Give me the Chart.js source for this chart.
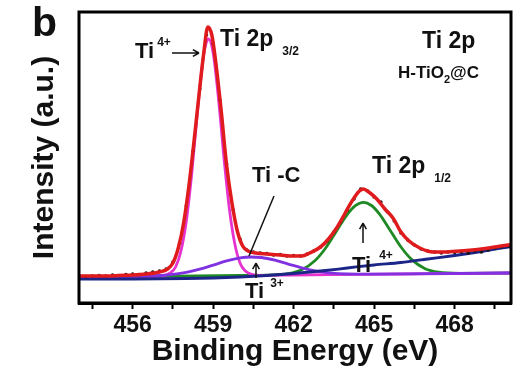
<!DOCTYPE html>
<html>
<head>
<meta charset="utf-8">
<script src="https://cdn.jsdelivr.net/npm/chart.js@4.4.1/dist/chart.umd.min.js"></script>
<style>
  html, body { margin: 0; padding: 0; background: #fff; }
  #wrap { width: 520px; height: 382px; }
</style>
</head>
<body>
<div id="wrap"><canvas id="xps" width="520" height="382"></canvas></div>
<script>
// Ti 2p XPS spectrum of H-TiO2@C with fitted components

const FONT = "'Liberation Sans', Arial, Helvetica, sans-serif";

// x axis ticks (binding energy, eV)
const tickEnergies = [454.5, 456, 457.5, 459, 460.5, 462, 463.5, 465, 466.5, 468, 469.5];
const majorTicks   = [456, 459, 462, 465, 468];

// raw data points (black dots)
const rawEnergy = [454, 454.25, 454.5, 454.75, 455, 455.25, 455.5, 455.75, 456, 456.25, 456.5, 456.75,
  457, 457.25, 457.5, 457.75, 458, 458.25, 458.5, 458.75, 459, 459.25, 459.5, 459.75,
  460, 460.25, 460.5, 460.75, 461, 461.25, 461.5, 461.75, 462, 462.25, 462.5, 462.75,
  463, 463.25, 463.5, 463.75, 464, 464.25, 464.5, 464.75, 465, 465.25, 465.5, 465.75,
  466, 466.25, 466.5, 466.75, 467, 467.25, 467.5, 467.75, 468, 468.25, 468.5, 468.75,
  469, 469.25, 469.5, 469.75, 470];
const rawIntensity = [27.5, 26.5, 27, 27.5, 27, 28, 27.5, 28.5, 29, 28.5, 30, 31,
  32, 34, 41, 60, 97, 152, 214, 268, 259, 203, 139, 93,
  64, 53, 51, 50, 49.5, 48, 48.5, 47, 47.5, 47, 49, 52,
  56, 62, 71, 81, 93, 104, 114, 112, 106, 101, 91, 82,
  70, 63, 58, 54, 52, 51, 50, 51, 50.5, 51, 50, 52,
  51, 53, 55, 56, 57];

// fitted envelope (red)
const envEnergy = [454, 455, 455.5, 456, 456.5, 457, 457.3, 457.5, 457.7, 457.9, 458.1, 458.3, 458.5,
  458.65, 458.8, 458.95, 459.1, 459.3, 459.5, 459.7, 459.9, 460.1, 460.3, 460.6, 461, 461.5,
  462, 462.3, 462.6, 463, 463.3, 463.6, 463.9, 464.2, 464.45, 464.6, 464.8, 465.1, 465.4,
  465.7, 466, 466.3, 466.7, 467.2, 467.6, 468.2, 469, 469.5, 470, 470.1];
const envIntensity = [27, 27, 27.5, 28, 29, 31, 34, 40, 55, 80, 118, 165, 215,
  250, 276, 268, 240, 192, 138, 100, 72, 57, 52, 50, 49, 48,
  47, 47, 50, 56, 64, 75, 89, 103, 112, 114, 111, 104, 94,
  85, 71, 62, 55, 51, 51, 52, 54, 56, 58, 58.5];

// Ti4+ 2p3/2 component (magenta)
const p32Energy = [454, 456, 457, 457.4, 457.6, 457.8, 458, 458.2, 458.4, 458.6, 458.7, 458.83,
  459, 459.2, 459.4, 459.6, 459.8, 460, 460.2, 460.4, 460.8, 462, 466, 470.1];
const p32Intensity = [26, 26.5, 27, 30, 36, 52, 82, 129, 187, 239, 256, 264,
  250, 204, 146, 95, 60, 40, 32, 29, 27.7, 28, 29, 30];

// Ti3+ / Ti-C component (violet)
const ti3Energy = [454, 455, 456, 456.5, 457, 457.5, 458, 458.5, 459, 459.5, 460, 460.4,
  460.8, 461.3, 461.8, 462.3, 462.8, 463.3, 464, 465, 467, 470.1];
const ti3Intensity = [26.2, 26.4, 26.7, 27, 27.5, 28.7, 30.7, 33.8, 37.9, 42.1, 45.1, 46,
  45.5, 42.8, 38.9, 35.1, 32.1, 30.2, 29, 28.8, 29.3, 30];

// Ti4+ 2p1/2 component (green)
const p12Energy = [454, 460, 461, 461.8, 462.3, 462.8, 463.2, 463.6, 464, 464.3, 464.6, 464.9,
  465.2, 465.6, 466, 466.4, 466.9, 467.4, 468.2, 470.1];
const p12Intensity = [26, 27.5, 27.9, 29.4, 33.2, 42.5, 55.3, 72.1, 88.6, 97.4, 100.7, 97.5,
  88.9, 72.6, 56, 43.4, 34.3, 30.8, 29.7, 30];

// background (navy)
const bgEnergy = [454, 456, 458, 459, 460, 461, 462, 463, 464, 465, 466, 467, 468, 469, 470.1];
const bgIntensity = [24, 24, 24.5, 25, 26, 27.5, 29.5, 32, 35, 38, 40.5, 44, 47.5, 51.5, 56.5];

const pts = (xs, ys) => xs.map((x, i) => ({ x, y: ys[i] }));

function curve(data, color, width, order) {
  return {
    data, order,
    borderColor: color,
    borderWidth: width,
    pointRadius: 0,
    fill: false,
    cubicInterpolationMode: 'monotone'
  };
}

// text with small super/subscripts: parts = [[text, size, dy, gap], ...]
function richText(ctx, x, y, parts) {
  let cx = x;
  parts.forEach(([t, size, dy, gap]) => {
    ctx.font = `bold ${size}px ${FONT}`;
    cx += gap || 0;
    ctx.fillText(t, cx, y + (dy || 0));
    cx += ctx.measureText(t).width;
  });
}

function arrow(ctx, x1, y1, x2, y2, head) {
  ctx.beginPath();
  ctx.moveTo(x1, y1);
  ctx.lineTo(x2, y2);
  if (head) {
    const a = Math.atan2(y2 - y1, x2 - x1);
    ctx.moveTo(x2, y2);
    ctx.lineTo(x2 - 7 * Math.cos(a - 0.5), y2 - 7 * Math.sin(a - 0.5));
    ctx.moveTo(x2, y2);
    ctx.lineTo(x2 - 7 * Math.cos(a + 0.5), y2 - 7 * Math.sin(a + 0.5));
  }
  ctx.stroke();
}

const annotations = {
  id: 'annotations',
  afterDatasetsDraw(chart) {
    const { ctx, chartArea: a } = chart;
    ctx.save();
    ctx.strokeStyle = '#000';
    ctx.lineWidth = 3;
    ctx.strokeRect(a.left, a.top, a.right - a.left, a.bottom - a.top);

    ctx.fillStyle = '#111';
    ctx.textBaseline = 'alphabetic';
    ctx.textAlign = 'left';

    richText(ctx, 32, 36, [['b', 41]]);

    richText(ctx, 135, 58, [['Ti', 22], ['4+', 12, -12, 3]]);
    richText(ctx, 220, 46, [['Ti 2p', 23], ['3/2', 12, 9, 9]]);
    richText(ctx, 422, 48, [['Ti 2p', 23]]);
    richText(ctx, 398, 78, [['H-TiO', 17], ['2', 11, 5], ['@C', 17]]);
    richText(ctx, 252, 182, [['Ti -C', 22]]);
    richText(ctx, 372, 173, [['Ti 2p', 23], ['1/2', 12, 9, 9]]);
    richText(ctx, 352, 272, [['Ti', 22], ['4+', 12, -13, 8]]);
    richText(ctx, 245, 298, [['Ti', 22], ['3+', 12, -11, 6]]);

    ctx.lineWidth = 1.5;
    ctx.strokeStyle = '#111';
    arrow(ctx, 172, 53, 199, 53, true);
    arrow(ctx, 274, 196, 249, 256, false);
    arrow(ctx, 363, 243, 363, 223, true);
    arrow(ctx, 256, 278, 256, 263, true);
    ctx.restore();
  }
};

new Chart(document.getElementById('xps'), {
  type: 'line',
  data: {
    datasets: [
      curve(pts(envEnergy, envIntensity), '#e01b1d', 3.5, 0),
      {
        data: pts(rawEnergy, rawIntensity), order: 1,
        showLine: false, pointRadius: 1.8, pointBorderWidth: 0,
        pointBackgroundColor: '#151515'
      },
      curve(pts(bgEnergy, bgIntensity), '#1c2588', 2.8, 2),
      curve(pts(ti3Energy, ti3Intensity), '#8032e0', 2.8, 3),
      curve(pts(p32Energy, p32Intensity), '#e633d0', 2.8, 4),
      curve(pts(p12Energy, p12Intensity), '#1f8a24', 2.8, 5)
    ]
  },
  options: {
    responsive: false,
    animation: false,
    layout: { padding: { top: 12, right: 9, bottom: 0, left: 0 } },
    plugins: { legend: { display: false }, tooltip: { enabled: false } },
    scales: {
      x: {
        type: 'linear', min: 454, max: 470.1,
        afterBuildTicks: s => { s.ticks = tickEnergies.map(v => ({ value: v })); },
        afterFit: s => { s.height = 79; },
        grid: { drawOnChartArea: false, drawTicks: true, tickLength: 6, tickWidth: 2, tickColor: '#000' },
        border: { display: true, color: '#000', width: 3 },
        ticks: {
          color: '#111', padding: 3, maxRotation: 0, autoSkip: false,
          font: { family: FONT, size: 23, weight: 'bold' },
          callback: v => majorTicks.includes(v) ? String(v) : ''
        },
        title: {
          display: true, text: 'Binding Energy (eV)', color: '#111',
          font: { family: FONT, size: 30, weight: 'bold' },
          padding: { top: 0, bottom: 12 }
        }
      },
      y: {
        min: 0, max: 291,
        afterFit: s => { s.width = 79; },
        grid: { display: false },
        border: { display: false },
        ticks: { display: false },
        title: {
          display: true, text: 'Intensity (a.u.)', color: '#111',
          font: { family: FONT, size: 30, weight: 'bold' },
          padding: { top: 27, bottom: 0 }
        }
      }
    }
  },
  plugins: [annotations]
});
</script>
</body>
</html>
